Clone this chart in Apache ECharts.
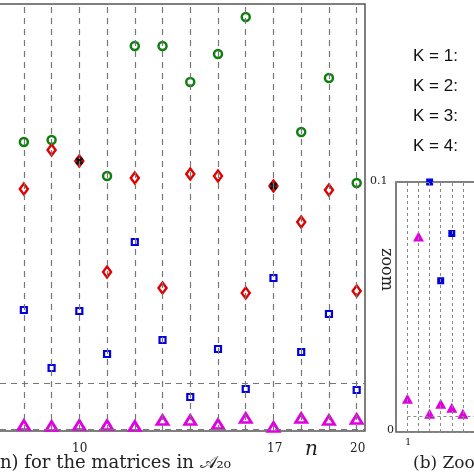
<!DOCTYPE html><html><head><meta charset="utf-8"><script src="https://cdn.jsdelivr.net/npm/echarts@6/dist/echarts.min.js"></script></head><body style="margin:0"><div id="c" style="width:474px;height:474px"></div><script>
const nMain=[8,9,10,11,12,13,14,15,16,17,18,19,20];
const greenN=[8,9,11,12,13,14,15,16,18,19,20];
const greenV=[289,291,255,385,385,349,377,414,299,353,248];
const redV=[242,281,270,159,253,143,257,255,138,245,209,241,140];
const blueV=[121,63,120,77,189,91,34,82,42,153,79,117,41];
const magV=[6,5,6,6,5,11,11,7,13,4,13,11,12];
const blackN=[10,17], blackV=[270,245];
const nZoom=[1,2,3,4,5,6];
const zoomMag=[0.0133,0.0782,0.0073,0.0113,0.0097,0.0073];
const zoomBlueN=[3,4,5], zoomBlueV=[0.1,0.0605,0.0794];
const legendTexts=['K = 1:','K = 2:','K = 3:','K = 4:'];
const serif='"DejaVu Serif", "Liberation Serif", serif';
const dash={type:[6,5],color:'#777',width:1.2};
const pair=(a,b)=>a.map((x,i)=>[x,b[i]]);
const ch=echarts.init(document.getElementById('c'));
const ax={axisLine:{show:false},axisTick:{show:false},axisLabel:{show:false},splitLine:{show:false}};
ch.setOption({
animation:false,
grid:[{left:-2,right:109,top:4,bottom:43},{left:396,right:-4,top:182,bottom:42}],
xAxis:[{gridIndex:0,type:'value',min:7.14,max:20.3,...ax},{gridIndex:1,type:'value',min:-0.03,max:7,...ax}],
yAxis:[{gridIndex:0,type:'value',min:0,max:427,...ax},{gridIndex:1,type:'value',min:0,max:0.1,...ax}],
series:[
{type:'line',xAxisIndex:0,yAxisIndex:0,data:[],markLine:{silent:true,symbol:'none',label:{show:false},lineStyle:dash,data:[...nMain.map(x=>({xAxis:x})),{yAxis:48},{yAxis:1.5}]}},
{type:'scatter',data:pair(greenN,greenV),symbol:'circle',symbolSize:8,itemStyle:{opacity:1,color:'#fff',borderColor:'#0f7f0f',borderWidth:2.5}},
{type:'scatter',data:pair(nMain,redV),symbol:'diamond',symbolSize:[8,11],itemStyle:{opacity:1,color:'#fff',borderColor:'#e00000',borderWidth:2.5}},
{type:'scatter',data:pair(blackN,blackV),symbol:'path://M0,0L10,10M10,0L0,10',symbolSize:6,itemStyle:{opacity:1,color:'none',borderColor:'#111',borderWidth:3}},
{type:'scatter',data:pair(nMain,blueV),symbol:'rect',symbolSize:6,itemStyle:{opacity:1,color:'#fff',borderColor:'#0000e0',borderWidth:2.2}},
{type:'scatter',data:pair(nMain,magV),symbol:'triangle',symbolSize:[11,9],itemStyle:{opacity:1,color:'#fff',borderColor:'#e000e0',borderWidth:2.8}},
{type:'line',xAxisIndex:1,yAxisIndex:1,data:[],markLine:{silent:true,symbol:'none',label:{show:false},lineStyle:{type:[3,3],color:'#888',width:1},data:[...nZoom.map(x=>({xAxis:x})),{yAxis:0.0996},{yAxis:0.0006},[{coord:[1,0.0065]},{coord:[7,0.0065]}]]}},
{type:'scatter',xAxisIndex:1,yAxisIndex:1,data:pair(nZoom,zoomMag),symbol:'triangle',symbolSize:[11,10],itemStyle:{opacity:1,color:'#e000e0'}},
{type:'scatter',xAxisIndex:1,yAxisIndex:1,data:pair(zoomBlueN,zoomBlueV),symbol:'rect',symbolSize:7,itemStyle:{opacity:1,color:'#0000e0'}}
],
graphic:[
{type:'rect',shape:{x:-2,y:4,width:367,height:427},style:{fill:'none',stroke:'#555',lineWidth:1.5}},
{type:'rect',shape:{x:396,y:182,width:90,height:250},style:{fill:'none',stroke:'#555',lineWidth:1.5}},
...legendTexts.map((t,i)=>({type:'text',left:413,top:48+i*30,style:{text:t,font:'17px "Liberation Sans", sans-serif',fill:'#111'}})),
{type:'text',left:72,top:443,style:{text:'10',font:'12px '+serif,fill:'#222'}},
{type:'text',left:267,top:443,style:{text:'17',font:'12px '+serif,fill:'#222'}},
{type:'text',left:350,top:443,style:{text:'20',font:'12px '+serif,fill:'#222'}},
{type:'text',left:305,top:440,style:{text:'n',font:'italic 20px '+serif,fill:'#222'}},
{type:'text',left:0,top:454,style:{text:'n) for the matrices in 𝒜₂₀',font:'18px '+serif,fill:'#222'}},
{type:'text',left:370,top:176,style:{text:'0.1',font:'11px '+serif,fill:'#222'}},
{type:'text',left:387,top:425,style:{text:'0',font:'11px '+serif,fill:'#222'}},
{type:'text',left:405,top:437,style:{text:'1',font:'10px '+serif,fill:'#222'}},
{type:'text',x:394,y:248,rotation:-Math.PI/2,style:{text:'zoom',font:'16px '+serif,fill:'#222'}},
{type:'text',left:413,top:455,style:{text:'(b) Zoo',font:'17px '+serif,fill:'#222'}}
]});
</script></body></html>
